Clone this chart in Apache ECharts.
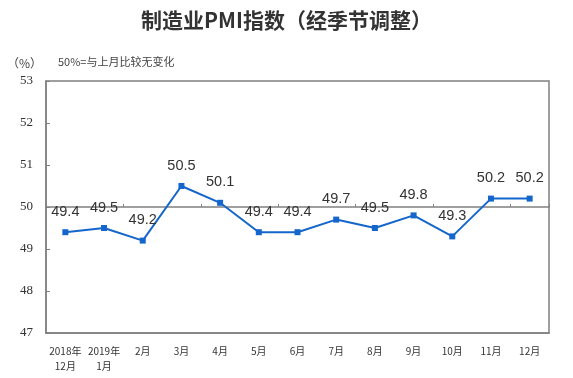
<!DOCTYPE html>
<html><head><meta charset="utf-8">
<script src="https://cdn.jsdelivr.net/npm/echarts@6/dist/echarts.min.js"></script>
<style>html,body{margin:0;padding:0;background:#fff}#c{width:573px;height:378px}</style>
</head><body><div id="c"></div>
<script>
var categories = ['2018年\n12月','2019年\n1月','2月','3月','4月','5月','6月','7月','8月','9月','10月','11月','12月'];
var pmiValues = [49.4, 49.5, 49.2, 50.5, 50.1, 49.4, 49.4, 49.7, 49.5, 49.8, 49.3, 50.2, 50.2];
var yTicks = [47, 48, 49, 50, 51, 52, 53];

var chart = echarts.init(document.getElementById('c'));
chart.setOption({
  animation: false,
  backgroundColor: '#fff',
  title: [
    {text: '制造业PMI指数（经季节调整）', left: 'center', top: 5,
     textStyle: {fontSize: 21, fontWeight: 'bold', color: '#333', fontFamily: 'Noto Sans CJK SC'}},
    {text: '（%）', left: 2, top: 52, textStyle: {fontSize: 12, fontWeight: 'normal', color: '#444', fontFamily: 'Noto Sans CJK SC'}},
    {text: '50%=与上月比较无变化', left: 53, top: 51, textStyle: {fontSize: 11, fontWeight: 'normal', color: '#444', fontFamily: 'Noto Sans CJK SC'}}
  ],
  grid: {left: 46, right: 24, top: 81, bottom: 45, show: true, borderColor: '#808080', borderWidth: 1.5},
  xAxis: [
    {type: 'category', data: categories, position: 'bottom', boundaryGap: true,
     axisLine: {show: true, lineStyle: {color: '#808080', width: 1.5}},
     axisTick: {show: false},
     axisLabel: {interval: 0, fontSize: 10, color: '#333', margin: 11, lineHeight: 15, fontFamily: 'Noto Sans CJK SC'}},
    {type: 'category', data: categories, position: 'top', offset: -126, boundaryGap: true,
     axisLine: {show: true, lineStyle: {color: '#808080', width: 1.5}},
     axisTick: {show: true, length: 3, lineStyle: {color: '#808080'}},
     axisLabel: {show: false}}
  ],
  yAxis: {type: 'value', min: 47, max: 53, interval: 1,
    axisLine: {show: true, lineStyle: {color: '#808080', width: 1.5}},
    axisTick: {show: true, inside: true, length: 4, lineStyle: {color: '#808080'}},
    splitLine: {show: false},
    axisLabel: {fontSize: 13, color: '#333', margin: 13, fontFamily: 'Liberation Serif',
      formatter: function (v) { return yTicks.indexOf(v) >= 0 ? String(v) : ''; }}
  },
  series: [{
    type: 'line', data: pmiValues, xAxisIndex: 0,
    symbol: 'rect', symbolSize: 6, showAllSymbol: true,
    lineStyle: {color: '#1466cc', width: 2},
    itemStyle: {color: '#1466cc'},
    label: {show: true, position: 'top', distance: 10, fontSize: 14.5, color: '#333',
      fontFamily: 'Liberation Sans', formatter: function (p) { return p.value.toFixed(1); }}
  }]
});
</script></body></html>
